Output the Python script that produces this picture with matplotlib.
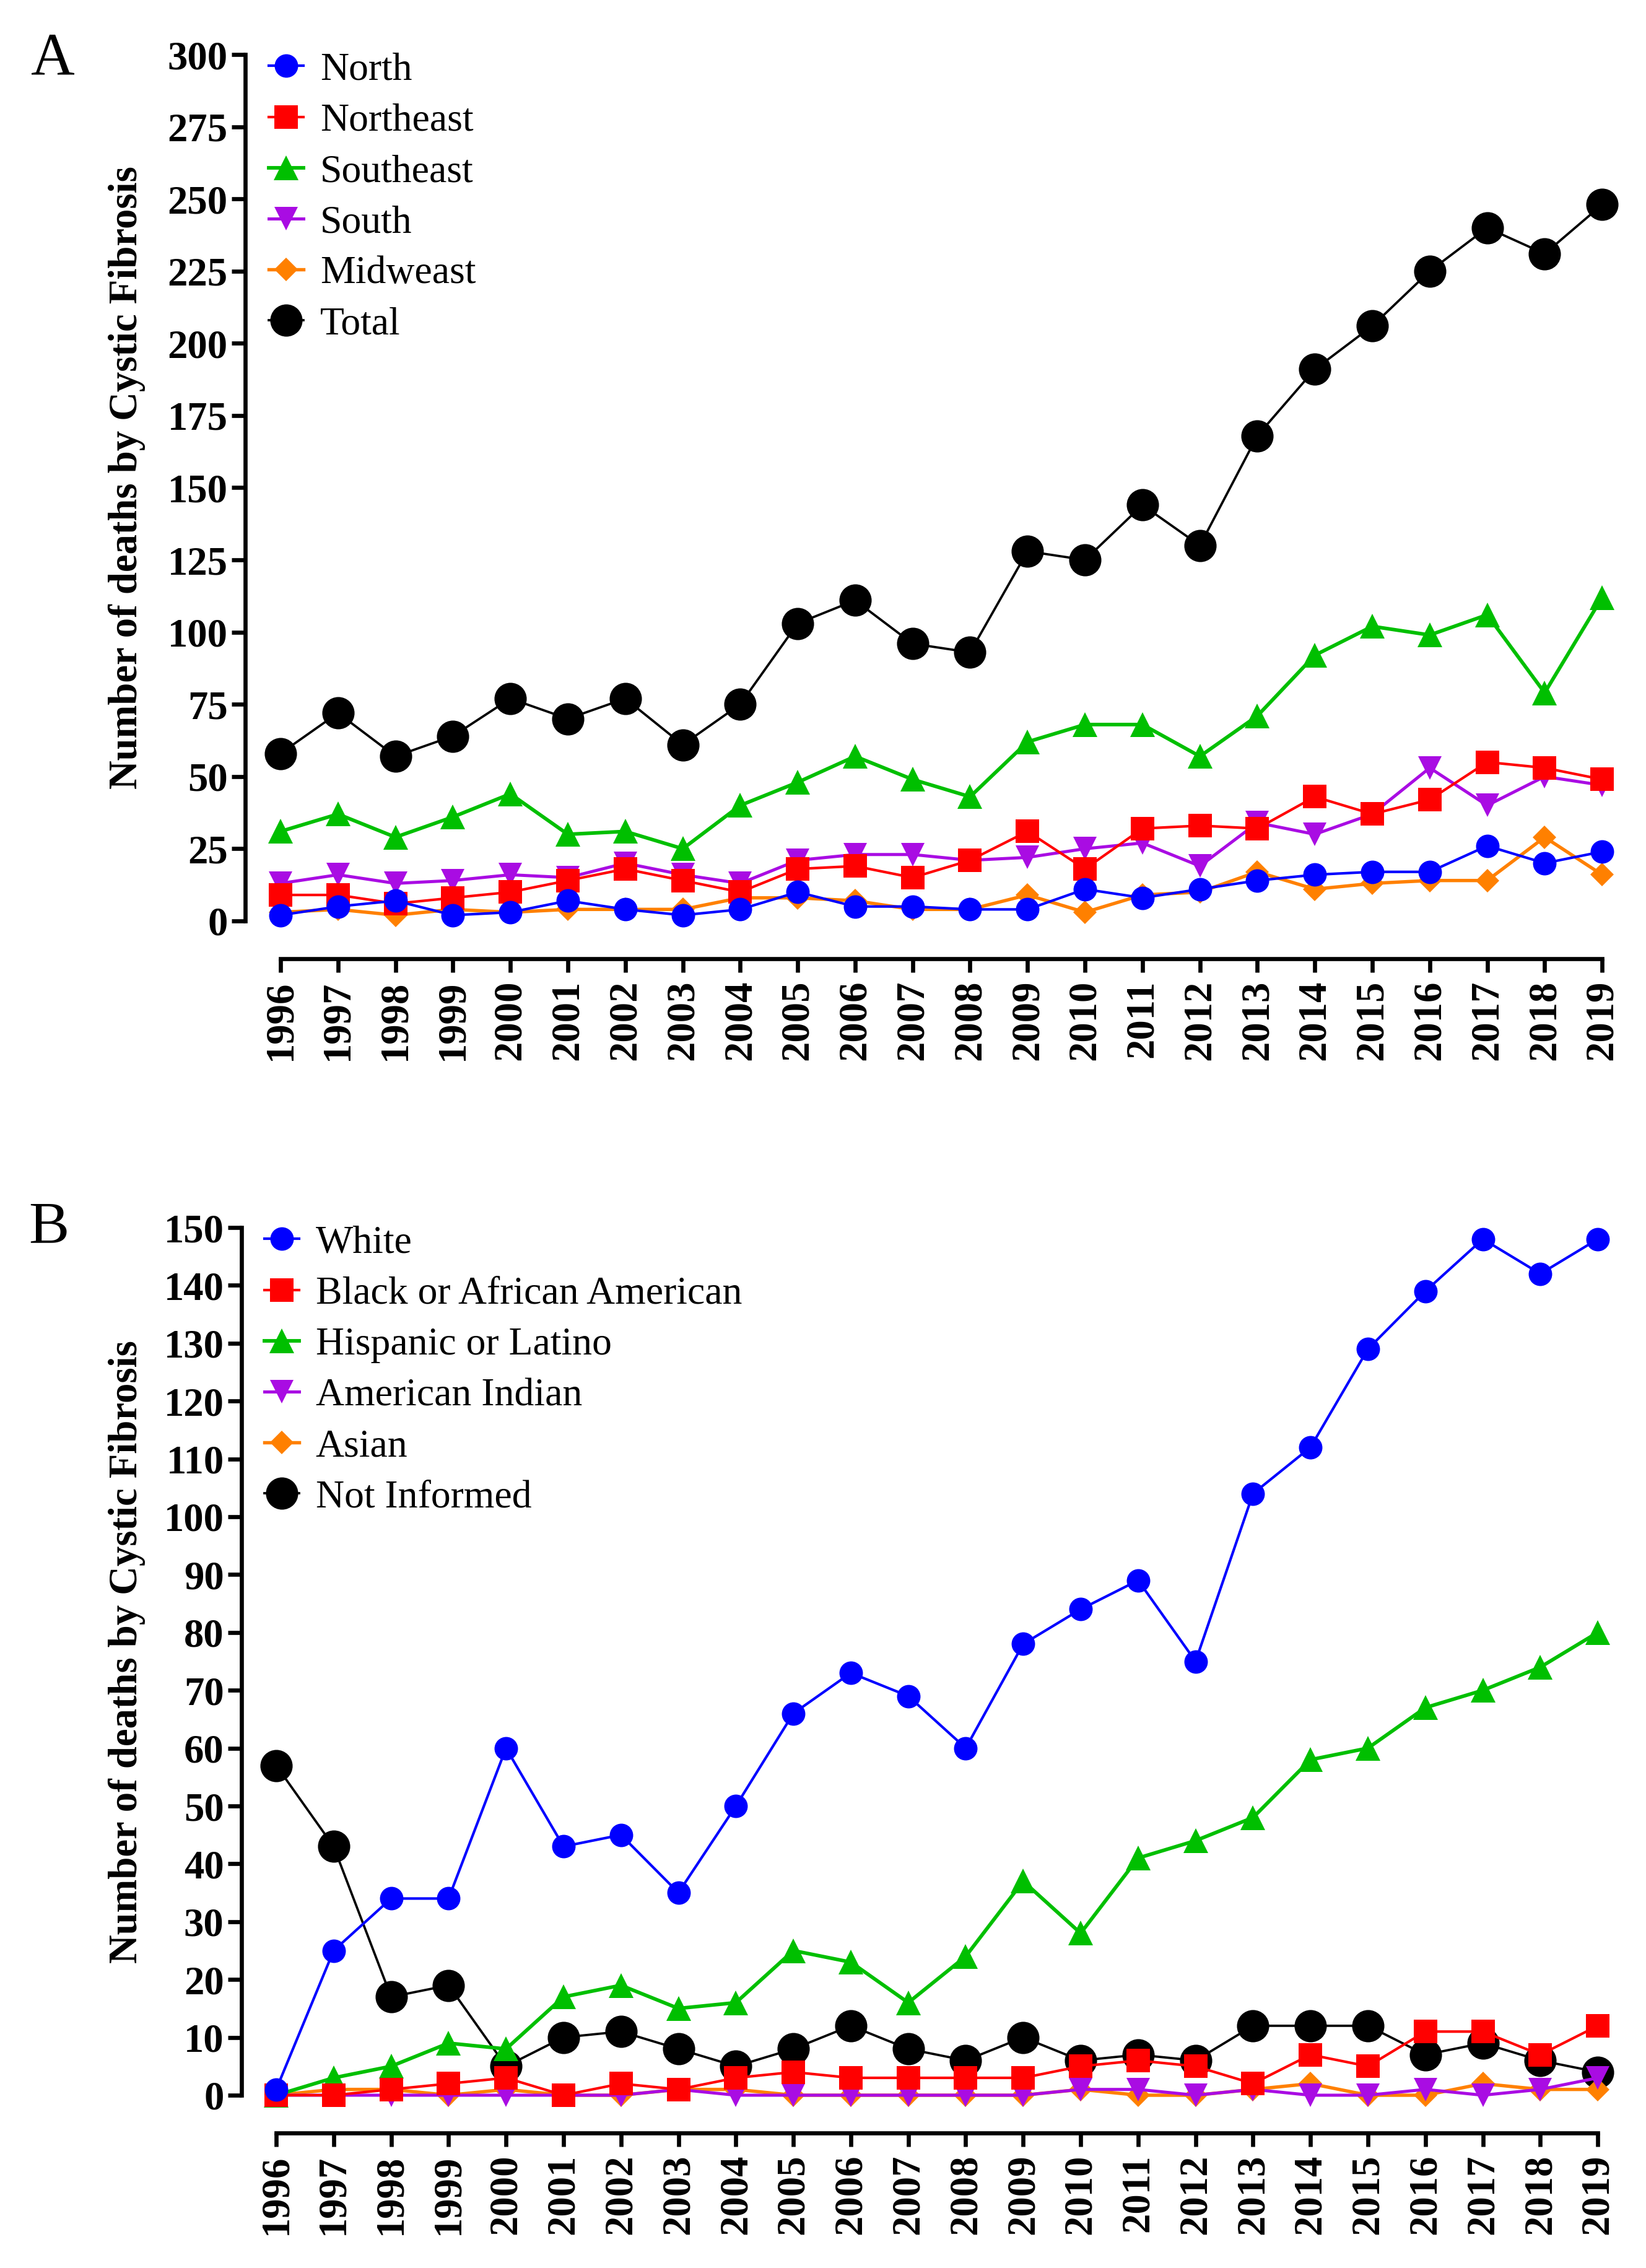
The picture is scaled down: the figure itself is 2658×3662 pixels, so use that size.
import matplotlib.pyplot as plt

plt.rcParams['font.family'] = ['Liberation Serif', 'DejaVu Serif']

years = list(range(1996, 2020))

# panel A - regions
north = [2, 5, 7, 2, 3, 7, 4, 2, 4, 10, 5, 5, 4, 4, 11, 8, 11, 14, 16, 17, 17, 26, 20, 24]
northeast = [9, 9, 6, 8, 10, 14, 18, 14, 10, 18, 19, 15, 21, 31, 18, 32, 33, 32, 43, 37, 42, 55, 53, 49]
southeast = [31, 37, 29, 36, 44, 30, 31, 25, 40, 48, 57, 49, 43, 62, 68, 68, 57, 71, 92, 102, 99, 106, 79, 112]
south = [13, 16, 13, 14, 16, 15, 20, 16, 13, 21, 23, 23, 21, 22, 25, 27, 19, 34, 30, 37, 53, 40, 50, 47]
midweast = [3, 4, 2, 4, 3, 4, 4, 4, 8, 8, 7, 4, 4, 9, 3, 9, 10, 17, 11, 13, 14, 14, 29, 16]
total = [58, 72, 57, 64, 77, 70, 77, 61, 75, 103, 111, 96, 93, 128, 125, 144, 130, 168, 191, 206, 225, 240, 231, 248]

# panel B - race
white = [1, 25, 34, 34, 60, 43, 45, 35, 50, 66, 73, 69, 60, 78, 84, 89, 75, 104, 112, 129, 139, 148, 142, 148]
black_afr = [0, 0, 1, 2, 3, 0, 2, 1, 3, 4, 3, 3, 3, 3, 5, 6, 5, 2, 7, 5, 11, 11, 7, 12]
hispanic = [0, 3, 5, 9, 8, 17, 19, 15, 16, 25, 23, 16, 24, 37, 28, 41, 44, 48, 58, 60, 67, 70, 74, 80]
amer_indian = [0, 0, 0, 0, 0, 0, 0, 1, 0, 0, 0, 0, 0, 0, 1, 1, 0, 1, 0, 0, 1, 0, 1, 3]
asian = [0, 1, 1, 0, 1, 0, 0, 1, 1, 0, 0, 0, 0, 0, 1, 0, 0, 1, 2, 0, 0, 2, 1, 1]
not_informed = [57, 43, 17, 19, 5, 10, 11, 8, 5, 8, 12, 8, 6, 10, 6, 7, 6, 12, 12, 12, 7, 9, 6, 4]

labels_a = ['North', 'Northeast', 'Southeast', 'South', 'Midweast', 'Total']
labels_b = ['White', 'Black or African American', 'Hispanic or Latino', 'American Indian', 'Asian', 'Not Informed']

colors = ['#0000FF', '#FF0000', '#00BF00', '#A90CE3', '#FF8000', '#000000']
markers = ['o', 's', '^', 'v', 'D', 'o']
msizes = [9.1, 8.9, 9.4, 9.2, 6.5, 12.5]
lwidths = [1.0, 1.0, 1.4, 1.2, 1.3, 0.9]

W, H = 2658, 3662
fig = plt.figure(figsize=(W / 300, H / 300), dpi=300)


def px_axes(left, right, top, bottom):
    return fig.add_axes([left / W, 1 - bottom / H, (right - left) / W, (bottom - top) / H])


def draw_panel(ax, series, labels, ymax, ystep, xleft, leg_xy):
    for i, (vals, lab) in enumerate(zip(series, labels)):
        ax.plot(years, vals, color=colors[i], marker=markers[i], ms=msizes[i], lw=lwidths[i],
                mew=0, label=lab, zorder=10 - i, clip_on=False)
    ax.set_xlim(xleft, 2019.3)
    ax.set_ylim(0, ymax)
    ax.set_yticks(range(0, ymax + 1, ystep))
    ax.set_xticks(years)
    ax.set_xticklabels([str(y) for y in years])
    for s in ['top', 'right']:
        ax.spines[s].set_visible(False)
    ax.spines['left'].set_bounds(0, ymax)
    ax.spines['bottom'].set_bounds(1996, 2019)
    ax.spines['bottom'].set_position(('outward', 14.6))
    for s in ['left', 'bottom']:
        ax.spines[s].set_linewidth(1.6)
    ax.tick_params(direction='out', length=5.3, width=1.6, labelsize=15.5)
    ax.tick_params(axis='y', pad=1.5)
    ax.tick_params(axis='x', pad=3, labelrotation=90)
    for t in ax.get_xticklabels() + ax.get_yticklabels():
        t.set_fontweight('bold')
    ax.legend(loc='upper left', bbox_to_anchor=(leg_xy[0] / W, 1 - leg_xy[1] / H),
              bbox_transform=fig.transFigure, frameon=False, fontsize=15.3,
              borderpad=0, borderaxespad=0, handlelength=0.88, handletextpad=0.42,
              labelspacing=0.37)


ax_a = px_axes(396, 2615, 88, 1487)
draw_panel(ax_a, [north, northeast, southeast, south, midweast, total], labels_a,
           300, 25, 1996 - 57 / 92.8, (434, 84))

ax_b = px_axes(390, 2608, 1982, 3383)
draw_panel(ax_b, [white, black_afr, hispanic, amer_indian, asian, not_informed], labels_b,
           150, 10, 1996 - 56 / 92.8, (427, 1978))

ylab = 'Number of deaths by Cystic Fibrosis'
fig.text(205 / W, 1 - 771 / H, ylab, rotation=90, ha='center', va='center',
         fontsize=15.5, fontweight='bold')
fig.text(205 / W, 1 - 2667 / H, ylab, rotation=90, ha='center', va='center',
         fontsize=15.5, fontweight='bold')

fig.text(50 / W, 1 - 120 / H, 'A', fontsize=23.5, va='baseline', ha='left')
fig.text(46 / W, 1 - 2007 / H, 'B', fontsize=23.5, va='baseline', ha='left')

fig.savefig('out.png', dpi=300)
